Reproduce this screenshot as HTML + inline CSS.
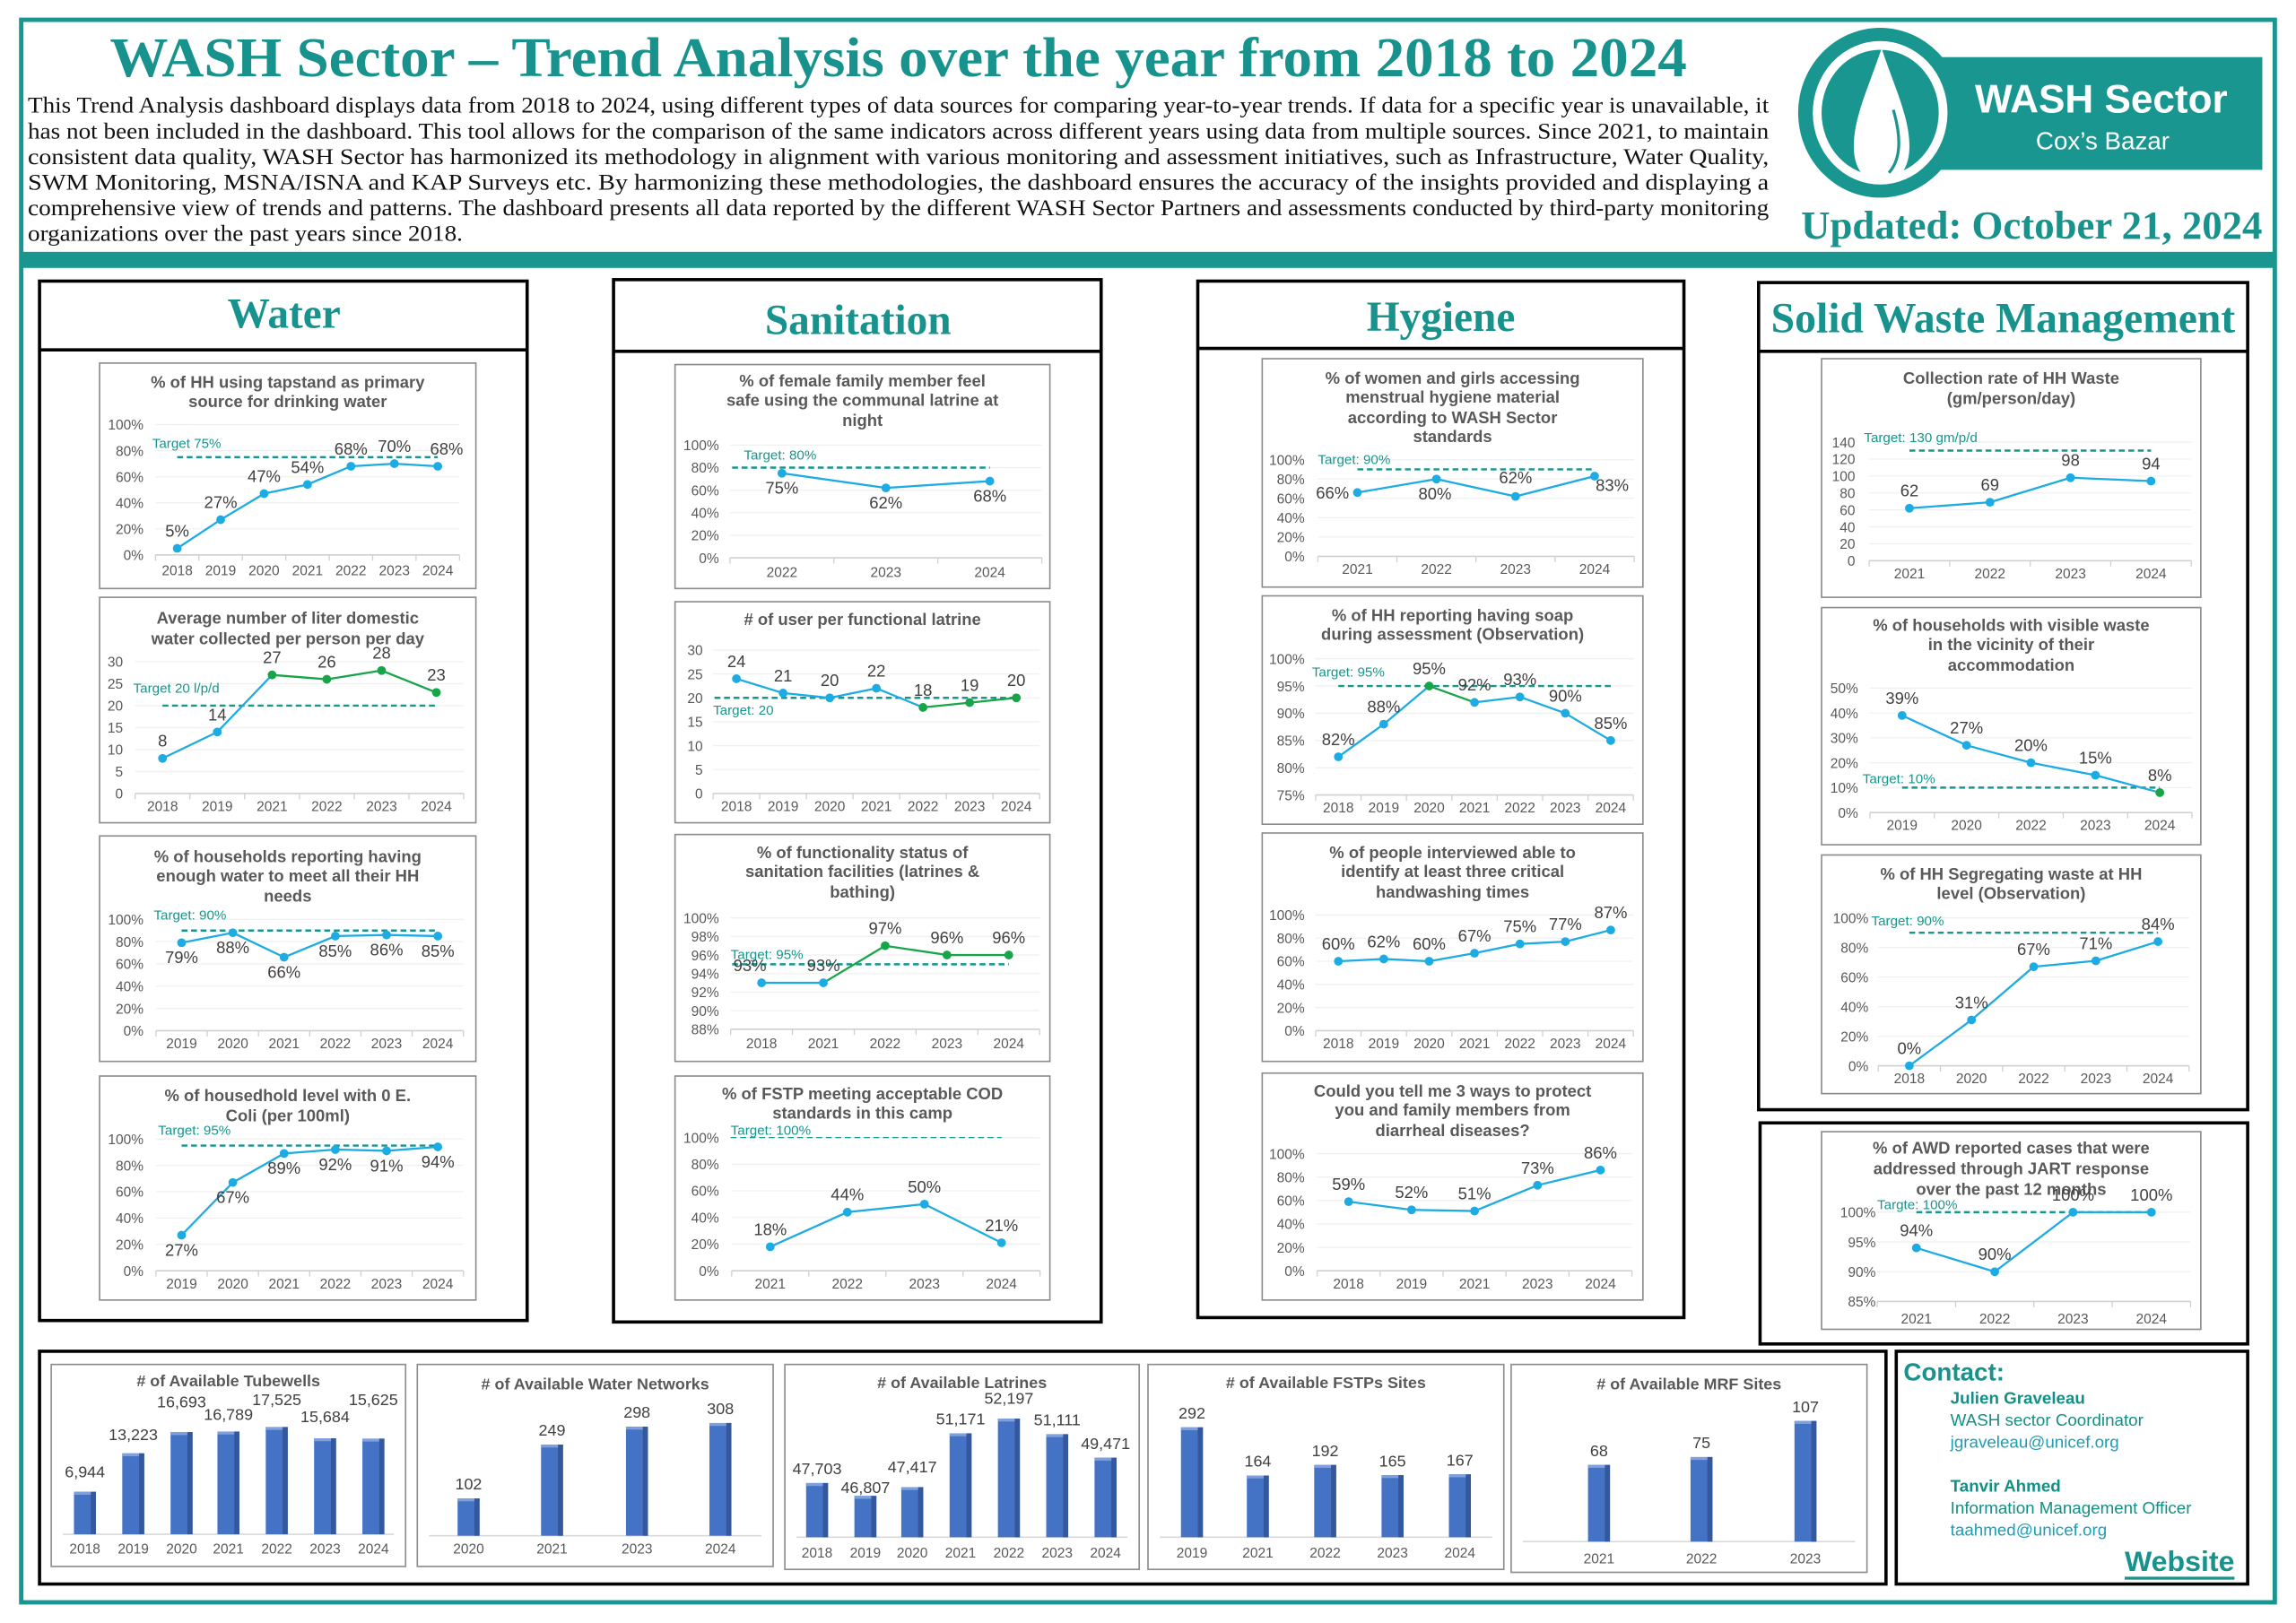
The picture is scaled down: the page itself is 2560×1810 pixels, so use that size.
<!DOCTYPE html>
<html><head><meta charset="utf-8">
<style>
html,body{margin:0;padding:0;background:#fff;width:2560px;height:1810px;overflow:hidden}
svg{display:block}
.sans{font-family:"Liberation Sans",Arial,sans-serif}
.serif{font-family:"Liberation Serif","Times New Roman",serif}
</style></head>
<body>
<svg id="s" width="2560" height="1810" viewBox="0 0 1568 1108.6" xmlns="http://www.w3.org/2000/svg">
<rect x="0" y="0" width="1568" height="1109" fill="#fff"/>
<rect x="14.5" y="13.5" width="1539" height="1081" fill="none" stroke="#1a9690" stroke-width="3"/>
<rect x="14" y="172" width="1540" height="11" fill="#1a9690"/>
<text class="serif" x="75" y="52" font-size="38" font-weight="bold" fill="#17928c" textLength="1077" lengthAdjust="spacingAndGlyphs">WASH Sector – Trend Analysis over the year from 2018 to 2024</text>
<g class="serif" font-size="15.5" fill="#111">
<text x="19" y="77" textLength="1189" lengthAdjust="spacingAndGlyphs">This Trend Analysis dashboard displays data from 2018 to 2024, using different types of data sources for comparing year-to-year trends. If data for a specific year is unavailable, it</text>
<text x="19" y="94.5" textLength="1189" lengthAdjust="spacingAndGlyphs">has not been included in the dashboard. This tool allows for the comparison of the same indicators across different years using data from multiple sources. Since 2021, to maintain</text>
<text x="19" y="112" textLength="1189" lengthAdjust="spacingAndGlyphs">consistent data quality, WASH Sector has harmonized its methodology in alignment with various monitoring and assessment initiatives, such as Infrastructure, Water Quality,</text>
<text x="19" y="129.5" textLength="1189" lengthAdjust="spacingAndGlyphs">SWM Monitoring, MSNA/ISNA and KAP Surveys etc. By harmonizing these methodologies, the dashboard ensures the accuracy of the insights provided and displaying a</text>
<text x="19" y="147" textLength="1189" lengthAdjust="spacingAndGlyphs">comprehensive view of trends and patterns. The dashboard presents all data reported by the different WASH Sector Partners and assessments conducted by third-party monitoring</text>
<text x="19" y="164.5" textLength="297" lengthAdjust="spacingAndGlyphs">organizations over the past years since 2018.</text>
</g>
<rect x="1325" y="39" width="220" height="77" fill="#1a9690"/>
<ellipse cx="1284" cy="77" rx="56" ry="58" fill="#1a9690"/>
<ellipse cx="1284" cy="77" rx="46" ry="49" fill="#fff"/>
<ellipse cx="1284" cy="77" rx="40" ry="43" fill="#1a9690"/>
<path d="M1285 33 C1276 60 1266 80 1266 100 C1266 118 1276 125 1285 125 C1294 125 1304 118 1304 100 C1304 80 1294 60 1285 33 Z" fill="#fff"/>
<path d="M1293 75 C1298 92 1299 108 1290 118" fill="none" stroke="#1a9690" stroke-width="2"/>
<text class="sans" x="1435" y="77" font-size="27" font-weight="bold" fill="#fff" text-anchor="middle">WASH Sector</text>
<text class="sans" x="1436" y="102" font-size="17" fill="#fff" text-anchor="middle">Cox’s Bazar</text>
<text class="serif" x="1230" y="163" font-size="27" font-weight="bold" fill="#17928c" textLength="315" lengthAdjust="spacingAndGlyphs">Updated: October 21, 2024</text>
<g fill="none" stroke="#000" stroke-width="2.2">
<rect x="27" y="192" width="333" height="710"/><line x1="27" y1="239" x2="360" y2="239"/>
<rect x="419" y="191" width="333" height="712"/><line x1="419" y1="240" x2="752" y2="240"/>
<rect x="818" y="192" width="332" height="708"/><line x1="818" y1="238" x2="1150" y2="238"/>
<rect x="1201" y="193" width="334" height="565"/><line x1="1201" y1="240" x2="1535" y2="240"/>
<rect x="1202" y="767" width="333" height="151"/>
<rect x="27" y="923" width="1261" height="159"/>
<rect x="1295" y="923" width="240" height="159"/>
</g>
<g class="serif" font-weight="bold" fill="#17928c" font-size="29" text-anchor="middle">
<text x="194" y="224">Water</text>
<text x="586" y="228">Sanitation</text>
<text x="984" y="226">Hygiene</text>
<text x="1368" y="227" textLength="317" lengthAdjust="spacingAndGlyphs">Solid Waste Management</text>
</g>
<g class="sans">
<text x="1300" y="943" font-size="17" font-weight="bold" fill="#17928c">Contact:</text>
<text x="1332" y="959" font-size="11.5" font-weight="bold" fill="#138f86">Julien Graveleau</text>
<text x="1332" y="974" font-size="11.5" fill="#138f86">WASH sector Coordinator</text>
<text x="1332" y="989" font-size="11.5" fill="#1a9fb5">jgraveleau@unicef.org</text>
<text x="1332" y="1019" font-size="11.5" font-weight="bold" fill="#138f86">Tanvir Ahmed</text>
<text x="1332" y="1034" font-size="11.5" fill="#138f86">Information Management Officer</text>
<text x="1332" y="1049" font-size="11.5" fill="#1a9fb5">taahmed@unicef.org</text>
<text x="1451" y="1073" font-size="19" font-weight="bold" fill="#17928c" textLength="75" lengthAdjust="spacingAndGlyphs">Website</text>
<rect x="1451" y="1077" width="75" height="2" fill="#17928c"/>
</g>
<g id="charts"></g>
</svg>
<script>
var NS="http://www.w3.org/2000/svg",G=document.getElementById("charts");
function el(t,a,txt){var e=document.createElementNS(NS,t);for(var k in a)e.setAttribute(k,a[k]);if(txt!==undefined)e.textContent=txt;G.appendChild(e);return e;}
var BL="#1cabe2",GR="#18a54a",TG="#15968e";
function line(c){
 var b=c.box;el("rect",{x:b[0],y:b[1],width:b[2]-b[0],height:b[3]-b[1],fill:"#fff",stroke:"#8c8c8c","stroke-width":1});
 var cx=(b[0]+b[2])/2;
 c.t.forEach(function(s,i){el("text",{x:cx,y:c.ty[i],"font-size":11.3,"font-weight":"bold",fill:"#595959","text-anchor":"middle","font-family":"Liberation Sans,sans-serif"},s);});
 var n=c.cats.length,w=(c.R-c.L)/n;
 function X(i){return c.L+(i+.5)*w;}
 function Y(v){return c.yB-(v-c.min)/(c.max-c.min)*(c.yB-c.yT);}
 for(var v=c.min;v<=c.max+1e-9;v+=c.step){var y=Y(v);
  el("line",{x1:c.L,x2:c.R,y1:y,y2:y,stroke:v==c.min?"#d0d0d0":"#f0f0f0","stroke-width":v==c.min?1:.8});
  el("text",{x:c.yl,y:y+3.5,"font-size":9.5,fill:"#595959","text-anchor":"end","font-family":"Liberation Sans,sans-serif"},Math.round(v)+(c.pct?"%":""));}
 for(var i=0;i<=n;i++)el("line",{x1:c.L+i*w,x2:c.L+i*w,y1:c.yB,y2:c.yB+4,stroke:"#d0d0d0","stroke-width":.8});
 c.cats.forEach(function(s,i){el("text",{x:X(i),y:c.xl,"font-size":9.5,fill:"#595959","text-anchor":"middle","font-family":"Liberation Sans,sans-serif"},s);});
 if(c.tg!==undefined){var ty=Y(c.tg);
  el("line",{x1:c.tx?c.tx[0]:X(0),x2:c.tx?c.tx[1]:X(n-1),y1:ty,y2:ty,stroke:TG,"stroke-width":c.thin?0.8:1.5,"stroke-dasharray":"4,2.5"});
  el("text",{x:c.tl[0],y:c.tl[1],"font-size":9.3,fill:TG,"font-family":"Liberation Sans,sans-serif"},c.tlab);}
 var col=c.col||"";
 for(var i=0;i<n-1;i++){var cc=(c.seg?c.seg[i]:col[i])=="g"?GR:BL;
  el("line",{x1:X(i),y1:Y(c.v[i]),x2:X(i+1),y2:Y(c.v[i+1]),stroke:cc,"stroke-width":1.4});}
 for(var i=0;i<n;i++){var cc=col[i]=="g"?GR:BL;
  el("circle",{cx:X(i),cy:Y(c.v[i]),r:3,fill:cc});
  var d=(c.d&&c.d[i])||[0,-8];
  el("text",{x:X(i)+d[0],y:Y(c.v[i])+d[1],"font-size":11.3,fill:"#404040","text-anchor":"middle","font-family":"Liberation Sans,sans-serif"},c.v[i]+(c.pct?"%":""));}
}
function bar(c){
 var b=c.box;el("rect",{x:b[0],y:b[1],width:b[2]-b[0],height:b[3]-b[1],fill:"#fff",stroke:"#8c8c8c","stroke-width":1});
 el("text",{x:(b[0]+b[2])/2,y:c.ty,"font-size":11,"font-weight":"bold",fill:"#595959","text-anchor":"middle","font-family":"Liberation Sans,sans-serif"},c.t);
 el("line",{x1:b[0]+8,x2:b[2]-8,y1:c.base,y2:c.base,stroke:"#d9d9d9","stroke-width":1});
 c.cx.forEach(function(x,i){var h=c.a*(c.v[i]-c.v0),top=c.base-h;
  el("rect",{x:x-7.5,y:top,width:15,height:h,fill:"#4472c4"});
  el("rect",{x:x-7.5,y:top,width:15,height:2,fill:"#7fa0dd"});
  el("rect",{x:x+4,y:top,width:3.5,height:h,fill:"#34589b"});
  el("text",{x:x,y:top-6+(c.d?c.d[i]:0),"font-size":11,fill:"#404040","text-anchor":"middle","font-family":"Liberation Sans,sans-serif"},c.v[i].toLocaleString("en-US"));
  el("text",{x:x,y:c.xl,"font-size":9.5,fill:"#595959","text-anchor":"middle","font-family":"Liberation Sans,sans-serif"},c.cats[i]);});
}
var Y7=["2018","2019","2020","2021","2022","2023","2024"];
var D=[
{box:[68,248,325,402],t:["% of HH using tapstand as primary","source for drinking water"],ty:[265,278],yT:290,yB:379,min:0,max:100,step:20,pct:1,yl:98,L:106.2,R:313.8,xl:393,cats:Y7,v:[5,27,47,54,68,70,68],tg:75,tlab:"Target 75%",tl:[104,306],d:[[0,-8],[0,-8],[0,-8],[0,-8],[0,-8],[0,-8],[6,-8]]},
{box:[68,408,325,562],t:["Average number of liter domestic","water collected per person per day"],ty:[426,440],yT:452,yB:542,min:0,max:30,step:5,yl:84,L:92.3,R:316.7,xl:554,cats:["2018","2019","2021","2022","2023","2024"],v:[8,14,27,26,28,23],col:"bbgggg",tg:20,tlab:"Target 20 l/p/d",tl:[91,473]},
{box:[68,571,325,725],t:["% of households reporting having","enough water to meet all their HH","needs"],ty:[589,602,616],yT:628,yB:704,min:0,max:100,step:20,pct:1,yl:98,L:106.5,R:316.5,xl:716,cats:["2019","2020","2021","2022","2023","2024"],v:[79,88,66,85,86,85],tg:90,tlab:"Target: 90%",tl:[105,628],d:[[0,14],[0,14],[0,14],[0,14],[0,14],[0,14]]},
{box:[68,735,325,888],t:["% of housedhold level with 0 E.","Coli (per 100ml)"],ty:[752,766],yT:778,yB:868,min:0,max:100,step:20,pct:1,yl:98,L:106.5,R:316.5,xl:880,cats:["2019","2020","2021","2022","2023","2024"],v:[27,67,89,92,91,94],tg:95,tlab:"Target: 95%",tl:[108,775],d:[[0,14],[0,14],[0,14],[0,14],[0,14],[0,14]]},
{box:[461,249,717,402],t:["% of female family member feel","safe using the communal latrine at","night"],ty:[264,277,291],yT:304,yB:381,min:0,max:100,step:20,pct:1,yl:491,L:498.5,R:711.5,xl:394,cats:["2022","2023","2024"],v:[75,62,68],tg:80,tx:[500,676],tlab:"Target: 80%",tl:[508,314],d:[[0,14],[0,14],[0,14]]},
{box:[461,411,717,562],t:["# of user per functional latrine"],ty:[427],yT:444,yB:542,min:0,max:30,step:5,yl:480,L:487,R:710,xl:554,cats:Y7,v:[24,21,20,22,18,19,20],col:"bbbbggg",tg:20,tx:[488,694],tlab:"Target: 20",tl:[487,488]},
{box:[461,570,717,725],t:["% of functionality status of","sanitation facilities (latrines &","bathing)"],ty:[586,599,613],yT:627,yB:703,min:88,max:100,step:2,pct:1,yl:491,L:499,R:710,xl:716,cats:["2018","2021","2022","2023","2024"],v:[93,93,97,96,96],col:"bbggg",seg:"bggg",tg:95,tx:[500,689],tlab:"Target: 95%",tl:[499,655],d:[[-8,-8],[0,-8],[0,-8],[0,-8],[0,-8]]},
{box:[461,735,717,888],t:["% of FSTP meeting acceptable COD","standards in this camp"],ty:[751,764],yT:777,yB:868,min:0,max:100,step:20,pct:1,yl:491,L:499.7,R:710.3,xl:880,cats:["2021","2022","2023","2024"],v:[18,44,50,21],tg:100,thin:1,tx:[499,684],tlab:"Target: 100%",tl:[499,775]},
{box:[862,245,1122,401],t:["% of women and girls accessing","menstrual hygiene material","according to WASH Sector","standards"],ty:[262,275,289,302],yT:314,yB:380,min:0,max:100,step:20,pct:1,yl:891,L:900,R:1116,xl:392,cats:["2021","2022","2023","2024"],v:[66,80,62,83],tg:90,tlab:"Target: 90%",tl:[900,317],d:[[-17,4],[-1,14],[0,-9],[12,10]]},
{box:[862,407,1122,563],t:["% of HH reporting having soap","during assessment (Observation)"],ty:[424,437],yT:450,yB:543,min:75,max:100,step:5,pct:1,yl:891,L:898.5,R:1115.5,xl:555,cats:Y7,v:[82,88,95,92,93,90,85],col:"bbgbbbb",tg:95,tlab:"Target: 95%",tl:[896,462]},
{box:[862,569,1122,725],t:["% of people interviewed able to","identify at least three critical","handwashing times"],ty:[586,599,613],yT:625,yB:704,min:0,max:100,step:20,pct:1,yl:891,L:898.5,R:1115.5,xl:716,cats:Y7,v:[60,62,60,67,75,77,87]},
{box:[862,733,1122,888],t:["Could you tell me 3 ways to protect","you and family members from","diarrheal diseases?"],ty:[749,762,776],yT:788,yB:868,min:0,max:100,step:20,pct:1,yl:891,L:899.5,R:1114.5,xl:880,cats:["2018","2019","2021","2023","2024"],v:[59,52,51,73,86]},
{box:[1244,245,1503,408],t:["Collection rate of HH Waste","(gm/person/day)"],ty:[262,276],yT:302,yB:383,min:0,max:140,step:20,yl:1267,L:1276.5,R:1496.5,xl:395,cats:["2021","2022","2023","2024"],v:[62,69,98,94],tg:130,tlab:"Target: 130 gm/p/d",tl:[1273,302]},
{box:[1244,415,1503,577],t:["% of households with visible waste","in the vicinity of their","accommodation"],ty:[431,444,458],yT:470,yB:555,min:0,max:50,step:10,pct:1,yl:1269,L:1277,R:1497,xl:567,cats:["2019","2020","2022","2023","2024"],v:[39,27,20,15,8],col:"bbbbg",tg:10,tlab:"Target: 10%",tl:[1272,535]},
{box:[1244,584,1503,747],t:["% of HH Segregating waste at HH","level (Observation)"],ty:[601,614],yT:627,yB:728,min:0,max:100,step:20,pct:1,yl:1276,L:1282.7,R:1495,xl:740,cats:["2018","2020","2022","2023","2024"],v:[0,31,67,71,84],tg:90,tlab:"Target: 90%",tl:[1278,632]},
{box:[1244,773,1503,908],t:["% of AWD reported cases that were","addressed through JART response","over the past 12 months"],ty:[788,802,816],yT:828,yB:889,min:85,max:100,step:5,pct:1,yl:1281,L:1282,R:1496,xl:904,cats:["2021","2022","2023","2024"],v:[94,90,100,100],tg:100,tlab:"Targte: 100%",tl:[1282,826]}
];
D.forEach(line);
var B=[
{box:[35,932,277,1070],t:"# of Available Tubewells",ty:947,base:1048,xl:1061,a:0.00418,v0:0,cx:[58,91,124,156,189,222,255],cats:Y7,v:[6944,13223,16693,16789,17525,15684,15625],d:[-4,-3,-11,-2,-9,-5,-17]},
{box:[285,932,528,1070],t:"# of Available Water Networks",ty:949,base:1049,xl:1061,a:0.25,v0:0,cx:[320,377,435,492],cats:["2020","2021","2023","2024"],v:[102,249,298,308],d:[0,0,0,0]},
{box:[536,932,778,1072],t:"# of Available Latrines",ty:948,base:1050,xl:1064,a:0.00979,v0:43924,cx:[558,591,623,656,689,722,755],cats:Y7,v:[47703,46807,47417,51171,52197,51111,49471],d:[0,4,-4,0,-4,0,0]},
{box:[784,932,1027,1072],t:"# of Available FSTPs Sites",ty:948,base:1050,xl:1064,a:0.257,v0:0,cx:[814,859,905,951,997],cats:["2019","2021","2022","2023","2024"],v:[292,164,192,165,167]},
{box:[1032,932,1275,1074],t:"# of Available MRF Sites",ty:949,base:1053,xl:1068,a:0.77,v0:0,cx:[1092,1162,1233],cats:["2021","2022","2023"],v:[68,75,107]}
];
B.forEach(bar);
</script>
</body></html>
